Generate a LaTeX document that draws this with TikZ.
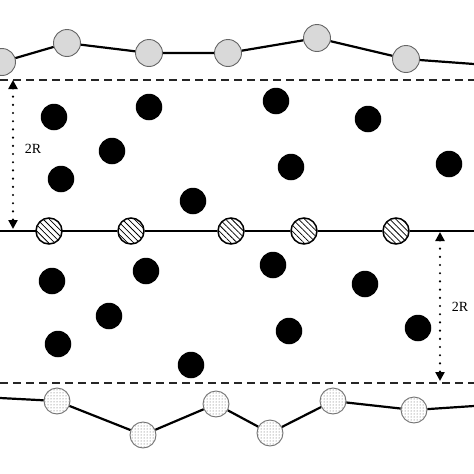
\documentclass[tikz,border=0pt]{standalone}
\usepackage{fontspec}
\setmainfont{Liberation Serif}
\usetikzlibrary{patterns.meta,arrows.meta}
\begin{document}
\begin{tikzpicture}[x=1pt,y=-1pt,
  grayball/.style={circle,draw=black!60,fill=black!15,line width=0.9pt,minimum size=27pt,inner sep=0pt},
  hatchball/.style={circle,draw=black,line width=1.5pt,pattern={Lines[angle=-45,distance=4.3pt,line width=0.75pt]},minimum size=26pt,inner sep=0pt},
  dotball/.style={circle,draw=black!55,line width=0.9pt,pattern={Dots[radius=0.5pt,distance=3pt]},pattern color=black!65,minimum size=26pt,inner sep=0pt},
  blackball/.style={circle,fill=black,minimum size=26.5pt,inner sep=0pt},
  chain/.style={line width=2.2pt,black},
  bound/.style={line width=1.4pt,dash pattern=on 8pt off 5pt,black!85},
  gap/.style={line width=2.4pt,line cap=round,dash pattern=on 0pt off 8.2pt,{Triangle[width=9pt,length=9pt]}-{Triangle[width=9pt,length=9pt]}},
  lab/.style={font=\fontsize{14}{16}\selectfont,inner sep=0pt}]
\useasboundingbox (0,0) rectangle (474,474);
\fill[white] (0,0) rectangle (474,474);
% dashed boundaries
\coordinate (dTL) at (0,80); \coordinate (dTR) at (474,80);
\coordinate (dBL) at (0,383); \coordinate (dBR) at (474,383);
\draw[bound] (dTL) -- (dTR);
\draw[bound] (dBL) -- (dBR);
% top chain
\coordinate (tR) at (474,64);
\node[grayball] (g1) at (2,62) {};
\node[grayball] (g2) at (67,43) {};
\node[grayball] (g3) at (149,53) {};
\node[grayball] (g4) at (228,53) {};
\node[grayball] (g5) at (317,38) {};
\node[grayball] (g6) at (406,59) {};
\draw[chain] (g1) -- (g2) -- (g3) -- (g4) -- (g5) -- (g6) -- (tR);
% middle line
\coordinate (mL) at (0,231); \coordinate (mR) at (474,231);
\node[hatchball] (h1) at (49,231) {};
\node[hatchball] (h2) at (131,231) {};
\node[hatchball] (h3) at (231,231) {};
\node[hatchball] (h4) at (304,231) {};
\node[hatchball] (h5) at (396,231) {};
\draw[chain] (mL) -- (h1) -- (h2) -- (h3) -- (h4) -- (h5) -- (mR);
% bottom chain
\coordinate (bL) at (0,398); \coordinate (bR) at (474,406);
\node[dotball] (p1) at (57,401) {};
\node[dotball] (p2) at (143,435) {};
\node[dotball] (p3) at (216,404) {};
\node[dotball] (p4) at (270,433) {};
\node[dotball] (p5) at (333,401) {};
\node[dotball] (p6) at (414,410) {};
\draw[chain] (bL) -- (p1) -- (p2) -- (p3) -- (p4) -- (p5) -- (p6) -- (bR);
% black balls upper
\node[blackball] (u1) at (54,117) {};
\node[blackball] (u2) at (149,107) {};
\node[blackball] (u3) at (112,151) {};
\node[blackball] (u4) at (61,179) {};
\node[blackball] (u5) at (193,201) {};
\node[blackball] (u6) at (276,101) {};
\node[blackball] (u7) at (368,119) {};
\node[blackball] (u8) at (291,167) {};
\node[blackball] (u9) at (449,164) {};
% black balls lower
\node[blackball] (l1) at (52,281) {};
\node[blackball] (l2) at (146,271) {};
\node[blackball] (l3) at (109,316) {};
\node[blackball] (l4) at (58,344) {};
\node[blackball] (l5) at (191,365) {};
\node[blackball] (l6) at (273,265) {};
\node[blackball] (l7) at (365,284) {};
\node[blackball] (l8) at (289,331) {};
\node[blackball] (l9) at (418,328) {};
% 2R arrows
\coordinate (aT) at (13,80); \coordinate (aB) at (13,229);
\draw[gap] (aT) -- (aB);
\node[lab] (la) at (33,149) {2R};
\coordinate (bT) at (440,232); \coordinate (bB) at (440,381);
\draw[gap] (bT) -- (bB);
\node[lab] (lb) at (460,307) {2R};
\end{tikzpicture}
\end{document}
